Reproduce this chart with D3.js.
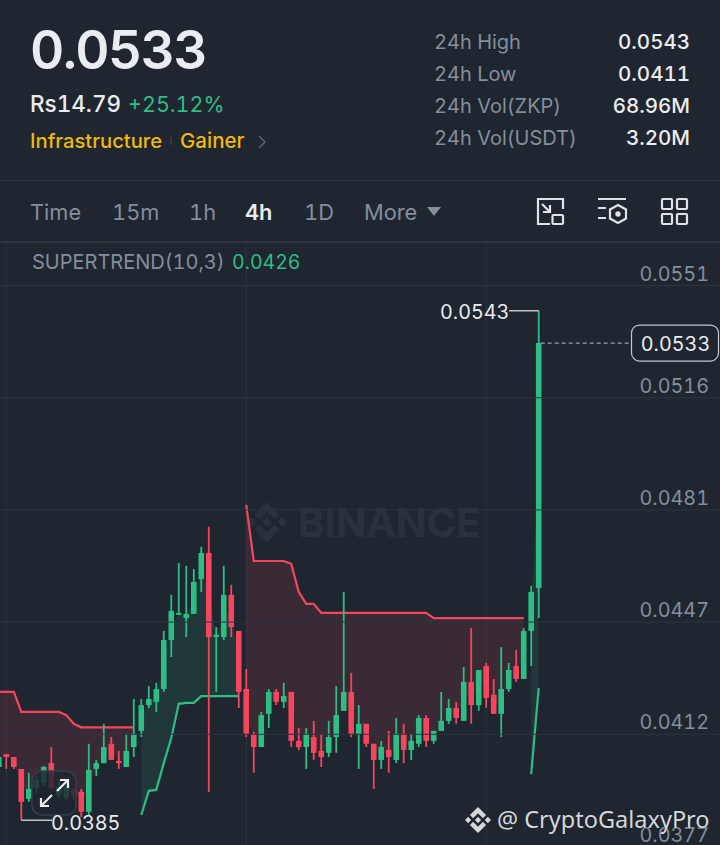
<!DOCTYPE html>
<html>
<head>
<meta charset="utf-8">
<script src="https://cdn.jsdelivr.net/npm/d3@7"></script>
<style>
html, body { margin: 0; padding: 0; background: #1f2630; }
svg { display: block; }
text { font-family: Inter, "Noto Sans", sans-serif; font-variant-numeric: tabular-nums; }
</style>
</head>
<body>
<div id="chart"></div>
<script>
// candles, oldest first
var opens = [0.04015,0.04055,0.04046,0.04009,0.03916,0.03950,0.03966,0.04027,0.03928,0.03919,0.03947,0.03938,0.03876,0.04009,0.04027,0.04087,0.04034,0.04015,0.04077,0.04127,0.04207,0.04217,0.04257,0.04409,0.04487,0.04477,0.04490,0.04598,0.04679,0.04418,0.04418,0.04549,0.04437,0.04257,0.04118,0.04077,0.04180,0.04248,0.04217,0.04248,0.04096,0.04077,0.04108,0.04065,0.04059,0.04108,0.04189,0.04248,0.04118,0.04149,0.04087,0.04037,0.04068,0.04037,0.04118,0.04068,0.04087,0.04167,0.04096,0.04127,0.04158,0.04198,0.04158,0.04279,0.04207,0.04328,0.04239,0.04180,0.04257,0.04328,0.04288,0.04437,0.04570];
var highs = [0.04055,0.04055,0.04046,0.04009,0.03997,0.03987,0.04018,0.04077,0.03975,0.03959,0.03950,0.03947,0.04087,0.04037,0.04149,0.04108,0.04065,0.04118,0.04226,0.04226,0.04266,0.04276,0.04437,0.04549,0.04648,0.04639,0.04629,0.04698,0.04760,0.04449,0.04639,0.04580,0.04437,0.04319,0.04124,0.04186,0.04257,0.04257,0.04276,0.04248,0.04136,0.04136,0.04158,0.04118,0.04158,0.04266,0.04558,0.04307,0.04207,0.04149,0.04087,0.04096,0.04127,0.04167,0.04149,0.04118,0.04176,0.04176,0.04127,0.04248,0.04226,0.04217,0.04325,0.04446,0.04316,0.04338,0.04288,0.04387,0.04338,0.04378,0.04446,0.04577,0.05430];
var lows = [0.04015,0.04009,0.04009,0.03850,0.03907,0.03935,0.03956,0.03950,0.03919,0.03913,0.03913,0.03860,0.03866,0.03987,0.04027,0.04037,0.04009,0.04015,0.04046,0.04108,0.04198,0.04186,0.04248,0.04356,0.04487,0.04418,0.04490,0.04558,0.03938,0.04248,0.04409,0.04418,0.04198,0.04108,0.03997,0.04077,0.04136,0.04207,0.04198,0.04077,0.04068,0.04009,0.04037,0.04015,0.04046,0.04059,0.04189,0.04108,0.04009,0.04077,0.03947,0.04009,0.03997,0.04027,0.04027,0.04037,0.04077,0.04077,0.04087,0.04127,0.04149,0.04149,0.04158,0.04149,0.04189,0.04198,0.04180,0.04108,0.04248,0.04279,0.04288,0.04328,0.04477];
var closes = [0.04046,0.04046,0.04015,0.03907,0.03947,0.03975,0.04015,0.03950,0.03953,0.03953,0.03928,0.03876,0.04006,0.04027,0.04077,0.04037,0.04027,0.04065,0.04118,0.04207,0.04226,0.04257,0.04409,0.04499,0.04493,0.04490,0.04589,0.04679,0.04418,0.04425,0.04549,0.04449,0.04248,0.04118,0.04077,0.04176,0.04248,0.04217,0.04235,0.04096,0.04077,0.04118,0.04059,0.04046,0.04108,0.04176,0.04248,0.04118,0.04149,0.04087,0.04037,0.04077,0.04046,0.04118,0.04068,0.04096,0.04167,0.04096,0.04127,0.04158,0.04198,0.04167,0.04279,0.04207,0.04316,0.04229,0.04180,0.04257,0.04316,0.04288,0.04437,0.04558,0.05330];

// supertrend, null where that side is not active
var stDown = [0.04248,0.04248,0.04248,0.04186,0.04186,0.04186,0.04186,0.04186,0.04186,0.04176,0.04149,0.04138,0.04138,0.04138,0.04138,0.04138,0.04138,0.04138,0.04138,
  null,null,null,null,null,null,null,null,null,null,null,null,null,null,
  0.04828,0.04654,0.04654,0.04654,0.04654,0.04654,0.04645,0.04558,0.04521,0.04521,0.04493,0.04493,0.04493,0.04493,0.04493,0.04493,0.04493,0.04493,0.04493,0.04493,0.04493,0.04493,0.04493,0.04493,0.04493,0.04477,0.04477,0.04477,0.04477,0.04477,0.04477,0.04477,0.04477,0.04477,0.04477,0.04477,0.04477,0.04477,
  null,null];
var stUp = [null,null,null,null,null,null,null,null,null,null,null,null,null,null,null,null,null,null,null,
  0.03866,0.03941,0.03944,0.04027,0.04105,0.04211,0.04214,0.04214,0.04235,0.04235,0.04235,0.04235,0.04235,0.04235,
  null,null,null,null,null,null,null,null,null,null,null,null,null,null,null,null,null,null,null,null,null,null,null,null,null,null,null,null,null,null,null,null,null,null,null,null,null,null,
  0.03993,0.04260];

var priceTicks = [0.0551, 0.05162, 0.04814, 0.04466, 0.04118, 0.0377];
var vGrid = [1, 33, 65];  // candle index of the vertical grid lines

var statLabels = ['24h High', '24h Low', '24h Vol(ZKP)', '24h Vol(USDT)'];
var statValues = ['0.0543', '0.0411', '68.96M', '3.20M'];
var tabs = ['Time', '15m', '1h', '4h', '1D', 'More'];
var tabX = [30, 112, 189, 245, 304, 364];

var GREEN = '#2ebd85', RED = '#f6465d', GREY = '#848e9c', WHITE = '#eaecef', YELLOW = '#f0b90b', LINE = '#2d343f';
var width = 720, height = 845;

var x = d3.scaleLinear().domain([1, 72]).range([6.3, 538.7]);
var y = d3.scaleLinear().domain([0.0377, 0.0551]).range([846, 285]);

var svg = d3.select('#chart').append('svg').attr('width', width).attr('height', height);

function label(parent, tx, ty, str, size, color, weight, anchor) {
    return parent.append('text')
        .attr('x', tx).attr('y', ty)
        .attr('font-size', size)
        .attr('fill', color)
        .attr('font-weight', weight || 400)
        .attr('text-anchor', anchor || 'start')
        .text(str);
}

// diamond logo built from five small squares
function logo(parent, cx, cy, s, color) {
    var g = parent.append('g').attr('transform', 'translate(' + cx + ',' + cy + ')').attr('fill', color);
    var chevron = 'M0,' + (-s) + 'L' + (s*0.62) + ',' + (-s*0.38) + 'L' + (s*0.38) + ',' + (-s*0.14) + 'L0,' + (-s*0.52) + 'L' + (-s*0.38) + ',' + (-s*0.14) + 'L' + (-s*0.62) + ',' + (-s*0.38) + 'Z';
    g.append('path').attr('d', chevron);
    g.append('path').attr('d', chevron).attr('transform', 'rotate(180)');
    [[-0.76, 0], [0.76, 0], [0, 0]].forEach(function(p) {
        g.append('rect')
            .attr('x', -s*0.17).attr('y', -s*0.17)
            .attr('width', s*0.34).attr('height', s*0.34)
            .attr('transform', 'translate(' + p[0]*s + ',' + p[1]*s + ') rotate(45)');
    });
}

// HEADER

label(svg, 30, 69, '0.0533', 53, WHITE, 600).attr('letter-spacing', -1.6);
label(svg, 30, 112, 'Rs14.79', 22.5, WHITE, 500);
label(svg, 128, 112, '+25.12%', 21.5, GREEN, 400);
label(svg, 30, 148, 'Infrastructure', 20.2, YELLOW, 500);
svg.append('line').attr('x1', 171).attr('x2', 171).attr('y1', 137).attr('y2', 145).attr('stroke', '#4a5160').attr('stroke-width', 1);
label(svg, 180, 148, 'Gainer', 20.5, YELLOW, 500);
svg.append('path').attr('d', 'M259,136L265,142L259,148').attr('fill', 'none').attr('stroke', '#5e6673').attr('stroke-width', 1.5);

statLabels.forEach(function(d, i) {
    var ty = 49 + i*32;
    label(svg, 434, ty, d, 20, GREY);
    label(svg, 690, ty, statValues[i], 20.5, WHITE, 500, 'end');
});

svg.append('rect').attr('x', 0).attr('y', 180).attr('width', width).attr('height', 1).attr('fill', LINE);

tabs.forEach(function(d, i) {
    label(svg, tabX[i], 220, d, 21.8, d == '4h' ? WHITE : GREY, d == '4h' ? 600 : 400);
});
svg.append('path').attr('d', 'M427,207L441,207L434,216Z').attr('fill', GREY);

var icons = svg.append('g').attr('fill', 'none').attr('stroke', '#dfe2e7').attr('stroke-width', 2.2);
icons.append('path').attr('d', 'M550,224L538,224L538,199L563,199L563,209');
icons.append('rect').attr('x', 552.5).attr('y', 215).attr('width', 10.5).attr('height', 9).attr('rx', 1);
icons.append('path').attr('d', 'M542,204L550,212M550,205L550,212L543,212');
icons.append('path').attr('d', 'M598,199L626,199M598,208L606,208M598,218L606,218');
icons.append('path').attr('d', 'M618,205L626,209.5L626,218.5L618,223L610,218.5L610,209.5Z');
icons.append('circle').attr('cx', 618).attr('cy', 214).attr('r', 1.6).attr('fill', '#dfe2e7');
[[662, 199], [677, 199], [662, 214], [677, 214]].forEach(function(p) {
    icons.append('rect').attr('x', p[0]).attr('y', p[1]).attr('width', 10).attr('height', 10).attr('rx', 1);
});

svg.append('rect').attr('x', 0).attr('y', 241).attr('width', width).attr('height', 2).attr('fill', LINE);

// GRID AND AXIS

var chart = svg.append('g');

chart.selectAll('.vgrid')
    .data(vGrid)
    .enter()
    .append('line')
    .attr('class', 'vgrid')
    .attr('x1', x).attr('x2', x)
    .attr('y1', 243).attr('y2', height)
    .attr('stroke', LINE);

var axis = chart.append('g')
    .call(d3.axisRight(y).tickValues(priceTicks).tickFormat(d3.format('.4f')).tickSize(width));
axis.select('.domain').remove();
axis.selectAll('line').attr('stroke', LINE);

logo(chart, 267, 522, 20, '#2a313c');
label(chart, 298, 537, 'BINANCE', 40, '#2a313c', 700);

// SUPERTREND

var idx = d3.range(opens.length);
var mid = function(i) { return y((opens[i] + closes[i]) / 2); };

function band(values, color) {
    chart.append('path')
        .attr('d', d3.area()
            .defined(function(i) { return values[i] != null; })
            .x(function(i) { return x(i); })
            .y0(function(i) { return y(values[i]); })
            .y1(mid)(idx))
        .attr('fill', color)
        .attr('fill-opacity', 0.12);
    chart.append('path')
        .attr('d', d3.line()
            .defined(function(i) { return values[i] != null; })
            .x(function(i) { return x(i); })
            .y(function(i) { return y(values[i]); })(idx))
        .attr('fill', 'none')
        .attr('stroke', color)
        .attr('stroke-width', 2.2);
}
band(stDown, RED);
band(stUp, GREEN);

// CANDLES

var candle = chart.selectAll('.candle')
    .data(idx)
    .enter()
    .append('g')
    .attr('class', 'candle')
    .attr('fill', function(i) { return closes[i] >= opens[i] ? GREEN : RED; });
candle.append('rect')
    .attr('x', function(i) { return x(i) - 0.9; })
    .attr('width', 1.8)
    .attr('y', function(i) { return y(highs[i]); })
    .attr('height', function(i) { return y(lows[i]) - y(highs[i]); });
candle.append('rect')
    .attr('x', function(i) { return x(i) - 2.8; })
    .attr('width', 5.6)
    .attr('y', function(i) { return y(Math.max(opens[i], closes[i])); })
    .attr('height', function(i) { return Math.max(1.5, Math.abs(y(opens[i]) - y(closes[i]))); });

// PRICE LABELS

axis.selectAll('text')
    .attr('x', 709)
    .attr('dy', -5)
    .attr('text-anchor', 'end')
    .attr('font-size', 19.8)
    .attr('font-family', 'Inter')
    .attr('fill', GREY);
axis.raise();

label(svg, 32, 269, 'SUPERTREND(10,3)', 20, GREY);
label(svg, 232, 269, '0.0426', 19.5, GREEN);

var hi = d3.max(highs), lo = d3.min(lows), last = closes[closes.length - 1];
var iHi = highs.indexOf(hi), iLo = lows.indexOf(lo);

svg.append('line').attr('x1', 509).attr('x2', x(iHi)).attr('y1', y(hi)).attr('y2', y(hi)).attr('stroke', WHITE).attr('stroke-width', 1.2);
label(svg, 440, y(hi) + 8, hi.toFixed(4), 19.8, WHITE);

svg.append('line').attr('x1', x(72) + 2).attr('x2', 631).attr('y1', y(last)).attr('y2', y(last))
    .attr('stroke', '#9aa1ac').attr('stroke-width', 1.2).attr('stroke-dasharray', '4,3');
svg.append('rect').attr('x', 631.5).attr('y', y(last) - 18).attr('width', 87).attr('height', 36).attr('rx', 8)
    .attr('fill', '#1f2630').attr('stroke', '#c4c8ce').attr('stroke-width', 1.2);
label(svg, 675.5, y(last) + 8, last.toFixed(4), 19.8, WHITE, 400, 'middle');

// zoom button
var btn = svg.append('g');
btn.append('rect').attr('x', 32).attr('y', 771).attr('width', 44).attr('height', 44).attr('rx', 10)
    .attr('fill', '#1f2630').attr('fill-opacity', 0.82).attr('stroke', '#363e4b').attr('stroke-width', 1.5);
btn.append('path')
    .attr('d', 'M42,805L52,795M41,798L41,806L49,806M68,780L57,791M60,780L68,780L68,788')
    .attr('fill', 'none').attr('stroke', WHITE).attr('stroke-width', 2.2);

svg.append('line').attr('x1', x(iLo)).attr('x2', 52).attr('y1', y(lo)).attr('y2', y(lo)).attr('stroke', WHITE).attr('stroke-width', 1.2);
label(svg, 51, y(lo) + 9.5, lo.toFixed(4), 19.8, WHITE);

// WATERMARK

logo(svg, 478, 820, 13, '#d5d7da');
label(svg, 497, 828, '@ CryptoGalaxyPro', 23.5, '#d5d7da')
    .style('font-family', '"Noto Sans"')
    .style('paint-order', 'stroke')
    .attr('stroke', '#14181f')
    .attr('stroke-width', 0.6);
</script>
</body>
</html>
